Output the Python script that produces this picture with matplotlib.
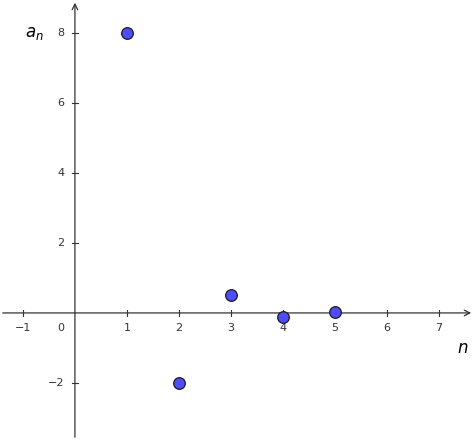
import matplotlib
matplotlib.use("Agg")
import matplotlib.pyplot as plt

n_vals = [1, 2, 3, 4, 5]
a_vals = [8, -2, 0.5, -0.125, 0.03125]
x_ticks = [-1, 1, 2, 3, 4, 5, 6, 7]
y_ticks = [-2, 2, 4, 6, 8]

fig = plt.figure(figsize=(4.74, 4.4), dpi=100)
ax = fig.add_axes([0, 0, 1, 1])
ax.set_xlim(-1.44, 7.67)
ax.set_ylim(-3.63, 8.94)
for s in ax.spines.values():
    s.set_visible(False)
ax.set_xticks([])
ax.set_yticks([])

# axes with arrows
ax.annotate("", xy=(7.67, 0), xytext=(-1.44, 0),
            arrowprops=dict(arrowstyle="->", color="#333333", lw=0.9))
ax.annotate("", xy=(0, 8.94), xytext=(0, -3.63),
            arrowprops=dict(arrowstyle="->", color="#333333", lw=0.9))

tick_color = "#333333"
for x in x_ticks:
    ax.plot([x, x], [-0.08, 0.08], color=tick_color, lw=0.8)
    ax.text(x, -0.3, "\u2212" + str(-x) if x < 0 else str(x), ha="center", va="top",
            fontsize=8, color=tick_color)
for y in y_ticks:
    ax.plot([-0.06, 0.06], [y, y], color=tick_color, lw=0.8)
    ax.text(-0.2, y, "\u2212" + str(-y) if y < 0 else str(y), ha="right", va="center",
            fontsize=8, color=tick_color)
ax.text(-0.2, -0.3, "0", ha="right", va="top", fontsize=8, color=tick_color)

ax.text(-0.6, 8.0, "$a_n$", ha="right", va="center", fontsize=12)
ax.text(7.45, -1.0, "$n$", ha="center", va="center", fontsize=12)

ax.scatter(n_vals, a_vals, s=70, color="#4d4dff", edgecolor="#1a1a1a",
           linewidth=0.9, zorder=5)

fig.savefig("out.png", dpi=100)
